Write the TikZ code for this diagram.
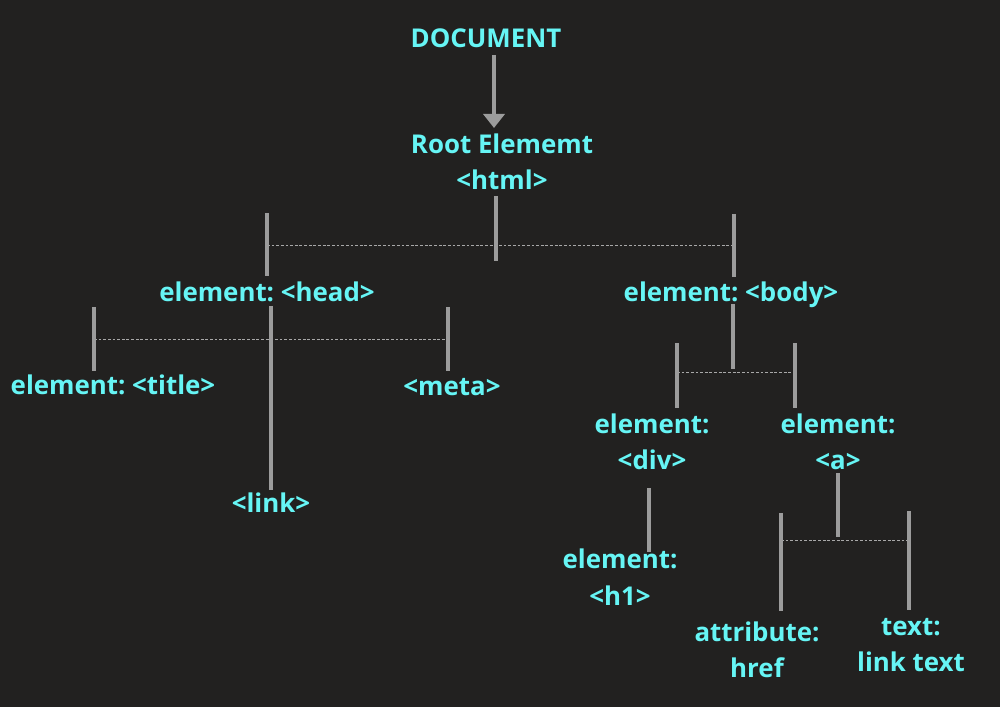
\documentclass[tikz,border=0pt]{standalone}
\usepackage{fontspec}
\setmainfont{Open Sans}
\usetikzlibrary{arrows.meta}
\definecolor{bg}{HTML}{222120}
\definecolor{cy}{HTML}{66F5F5}
\definecolor{bar}{HTML}{9C9C9C}
\definecolor{dash}{HTML}{A8A8A8}
\begin{document}
\begin{tikzpicture}[x=0.025cm,y=-0.025cm,
  lbl/.style={text=cy,font=\frenchspacing\bfseries\fontsize{18.4}{26}\selectfont,align=center,inner sep=0pt},
  barline/.style={draw=bar,line width=2.6pt},
  dashline/.style={draw=dash,line width=0.6pt,dash pattern=on 2pt off 1.3pt},
  arr/.style={draw=bar,line width=2.8pt,-{Triangle[width=15pt,length=10pt]}}]
\fill[bg] (0,0) rectangle (1000,707);
\useasboundingbox (0,0) rectangle (1000,707);
% labels
\node[lbl] (doc) at (486,38) {DOCUMENT};
\node[lbl] (root) at (502,162) {Root Elememt\\<html>};
\node[lbl] (head) at (267,292) {element: <head>};
\node[lbl] (body) at (731,295) {element: <body>};
\node[lbl] (title) at (113,385) {element: <title>};
\node[lbl] (meta) at (452,387) {<meta>};
\node[lbl] (link) at (271,503) {<link>};
\node[lbl] (div) at (652,442) {element:\\<div>};
\node[lbl] (a) at (838,442) {element:\\<a>};
\node[lbl] (h1) at (620,577) {element:\\<h1>};
\node[lbl] (href) at (757,650) {attribute:\\href};
\node[lbl] (txt) at (911,645) {text:\\link text};
% coordinates
\coordinate (d1) at (494,55); \coordinate (d2) at (494,128);
\coordinate (r1) at (496,196); \coordinate (r2) at (496,261);
\coordinate (hl1) at (267,213); \coordinate (hl2) at (267,276);
\coordinate (hr1) at (734,214); \coordinate (hr2) at (734,277);
\coordinate (hd1) at (267,245); \coordinate (hd2) at (734,245);
\coordinate (k1) at (271,306); \coordinate (k2) at (271,490);
\coordinate (tl1) at (94,307); \coordinate (tl2) at (94,371);
\coordinate (mt1) at (448,307); \coordinate (mt2) at (448,371);
\coordinate (kd1) at (94,339); \coordinate (kd2) at (448,339);
\coordinate (b1) at (733,304); \coordinate (b2) at (733,369);
\coordinate (bl1) at (677,343); \coordinate (bl2) at (677,408);
\coordinate (br1) at (795,343); \coordinate (br2) at (795,408);
\coordinate (bd1) at (677,372); \coordinate (bd2) at (795,372);
\coordinate (v1) at (649,488); \coordinate (v2) at (649,552);
\coordinate (a1) at (838,473); \coordinate (a2) at (838,537);
\coordinate (al1) at (781,513); \coordinate (al2) at (781,611);
\coordinate (ar1) at (909,511); \coordinate (ar2) at (909,610);
\coordinate (ad1) at (781,540); \coordinate (ad2) at (909,540);
% connectors
\draw[arr] (d1) -- (d2);
\draw[dashline] (hd1) -- (hd2);
\draw[dashline] (kd1) -- (kd2);
\draw[dashline] (bd1) -- (bd2);
\draw[dashline] (ad1) -- (ad2);
\foreach \p/\q in {r1/r2,hl1/hl2,hr1/hr2,k1/k2,tl1/tl2,mt1/mt2,b1/b2,bl1/bl2,br1/br2,v1/v2,a1/a2,al1/al2,ar1/ar2}
  \draw[barline] (\p) -- (\q);
\end{tikzpicture}
\end{document}
